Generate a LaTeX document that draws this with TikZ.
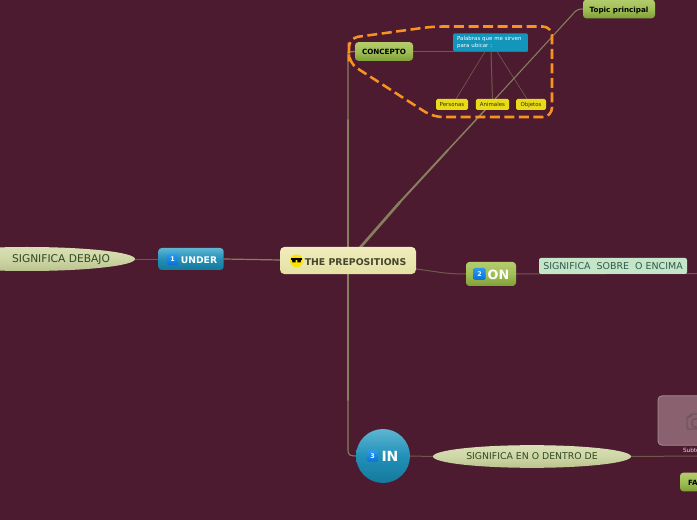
\documentclass[tikz,border=0pt]{standalone}
\usepackage{fontspec}
\setmainfont{DejaVu Sans}
\usetikzlibrary{shapes.geometric,calc}
\pgfdeclarelayer{behind}
\pgfsetlayers{behind,main}
\definecolor{bg}{HTML}{4D1B30}
\definecolor{conn}{HTML}{6E5A4A}
\definecolor{mainline}{HTML}{87805E}
\definecolor{orangeline}{HTML}{F7931E}
\definecolor{gt}{HTML}{B4CC6C}
\definecolor{gm}{HTML}{A0BF55}
\definecolor{gb}{HTML}{7FA037}
\definecolor{yel}{HTML}{E8DC18}
\definecolor{yeltext}{HTML}{332F10}
\definecolor{et}{HTML}{D9DFB4}
\definecolor{em}{HTML}{CFD6A6}
\definecolor{eb}{HTML}{BAC48E}
\definecolor{etext}{HTML}{2E4A22}
\definecolor{bt}{HTML}{5DB6D2}
\definecolor{bm}{HTML}{2290B8}
\definecolor{bb}{HTML}{14799C}
\definecolor{badget}{HTML}{2A9BEF}
\definecolor{badgeb}{HTML}{0A6ED8}
\definecolor{creamt}{HTML}{F0EDBE}
\definecolor{creamb}{HTML}{E4E1A4}
\definecolor{creamtext}{HTML}{45452E}
\definecolor{mint}{HTML}{C5E5C8}
\definecolor{minttext}{HTML}{2F5A4A}
\definecolor{cardfill}{HTML}{8A626F}
\definecolor{cardline}{HTML}{A98A94}
\definecolor{camera}{HTML}{6F5560}
\definecolor{teal}{HTML}{1296BC}
\tikzset{
  every node/.style={inner sep=0pt,outer sep=0pt,align=center},
  greenbox/.style={rounded corners=2.5pt,top color=gt,bottom color=gb,middle color=gm,text=black,font=\bfseries\fontsize{5.4}{7}\selectfont},
  yellowbox/.style={rounded corners=1.2pt,fill=yel,text=yeltext,minimum height=8.25pt,text height=3.4pt,text depth=.9pt,font=\fontsize{4.1}{5}\selectfont},
  ell/.style={ellipse,top color=et,bottom color=eb,middle color=em,text=etext},
  bluegrad/.style={top color=bt,bottom color=bb,middle color=bm},
  badge/.style={rounded corners=1pt,minimum width=8.5pt,minimum height=8.5pt,top color=badget,bottom color=badgeb,text=white,font=\bfseries\fontsize{4.8}{6}\selectfont},
  thinline/.style={draw=conn,line width=.75pt},
  hairline/.style={draw=conn,line width=.5pt},
  trunk/.style={draw=mainline,line cap=round,line join=round},
}
\begin{document}
\begin{tikzpicture}[x=.75pt,y=-.75pt]
\useasboundingbox (0,0) rectangle (697,520);

% free ends and bends
\coordinate (rightA) at (697,273.5);
\coordinate (rightB) at (697,456);
\coordinate (trunkTop) at (348,52);
\coordinate (midDiag) at (485,110);

% nodes
\node[rounded corners=3.5pt,minimum width=102pt,minimum height=20.5pt,top color=creamt,bottom color=creamb] (central) at (348,260.5) {};
\node[font=\bfseries\fontsize{7}{8}\selectfont,text=creamtext] (centraltext) at (355.5,262) {THE PREPOSITIONS};
\node[circle,fill=yellow!85!orange,minimum size=9.75pt] (face) at (296.5,261) {};
\node[rounded corners=2.5pt,minimum width=49pt,minimum height=16.5pt,bluegrad] (under) at (191,259) {};
\node[font=\bfseries\fontsize{6.9}{8}\selectfont,text=white] (undertext) at (199,260.5) {UNDER};
\node[badge] (b1) at (172.5,259.5) {1};
\node[ell,minimum width=162pt,minimum height=18pt] (debajo) at (27,259) {};
\node[font=\fontsize{8}{9}\selectfont,text=etext] (debajotext) at (61,260) {SIGNIFICA DEBAJO};
\node[rounded corners=2.5pt,minimum width=37.5pt,minimum height=18pt,top color=gt,bottom color=gb,middle color=gm] (on) at (491,274) {};
\node[font=\bfseries\fontsize{9.6}{11}\selectfont,text=white] (ontext) at (498.5,274.5) {ON};
\node[badge,minimum width=9pt,minimum height=9pt] (b2) at (479.5,274) {2};
\node[rounded corners=1.5pt,fill=mint,minimum width=111pt,minimum height=12pt,font=\fontsize{7.1}{8}\selectfont,text=minttext] (sobre) at (613,266) {SIGNIFICA\ \ SOBRE\ \ O ENCIMA};
\node[circle,minimum size=40.5pt,bluegrad] (in) at (383,456) {};
\node[font=\bfseries\fontsize{10.5}{12}\selectfont,text=white] (intext) at (390,456.5) {IN};
\node[badge] (b3) at (372.5,456) {3};
\node[ell,minimum width=148.5pt,minimum height=17pt,font=\fontsize{7}{8}\selectfont] (dentro) at (532,456.5) {SIGNIFICA EN O DENTRO DE};
\node[greenbox,minimum width=43.5pt,minimum height=14pt] (concepto) at (384,51.5) {CONCEPTO};
\node[greenbox,minimum width=54pt,minimum height=14pt,text height=7pt,text depth=1pt] (topic) at (619,9) {Topic principal};
\node[rounded corners=1pt,fill=teal,minimum width=56pt,minimum height=13.5pt,text=white,font=\fontsize{4.1}{5.4}\selectfont,align=left,text width=50pt] (palabras) at (490.5,42.5) {Palabras que me sirven\\para ubicar :};
\node[yellowbox,minimum width=24pt] (personas) at (452,104.5) {Personas};
\node[yellowbox,minimum width=25pt] (animales) at (492.5,104.5) {Animales};
\node[yellowbox,minimum width=22.5pt] (objetos) at (531,104.5) {Objetos};
\node[rounded corners=3pt,fill=cardfill,draw=cardline,line width=.6pt,minimum width=51pt,minimum height=37pt] (card) at (692,420.5) {};
\node[anchor=west,font=\fontsize{4.3}{5}\selectfont,text=white!85!bg] (cardlabel) at (683,451) {Subtopic};
\node[greenbox,minimum width=30pt,minimum height=14pt] (fa) at (700,482) {};
\node[anchor=west,font=\bfseries\fontsize{5.4}{7}\selectfont] (fatext) at (688,482.5) {FA};

% glasses on the face
\fill[black] (291,258) rectangle (302,260);
\fill[black] (291.8,259) -- (295.8,259) -- (295.5,262.5) -- (292.5,262.5) -- cycle;
\fill[black] (297.2,259) -- (301.2,259) -- (300.5,262.5) -- (297.5,262.5) -- cycle;

% camera placeholder in the card
\draw[camera,line width=1.1pt,rounded corners=1.5pt] (687,417) -- (690,417) -- (691,414) -- (700,414) -- (701,417) -- (708,417) -- (708,429) -- (687,429) -- cycle;
\draw[camera,line width=1.1pt] (696,423) circle (4.5);

% connectors and background, behind the nodes
\begin{pgfonlayer}{behind}
\fill[bg] (0,0) rectangle (697,520);
\draw[hairline] (debajo.east) -- (under.west);
\draw[trunk,line width=.9pt] (under.east) -- (central.west |- 0,260);
\draw[thinline] (central.east |- 0,269) .. controls (440,272) and (445,274) .. (on.west);
\draw[thinline] (on.east) -- (rightA);
\draw[thinline] (in.east) -- (dentro.west);
\draw[thinline] (dentro.east) -- (rightB);
\draw[thinline] (concepto.east) -- (palabras.south west) -- (palabras.south east);
\draw[hairline] (palabras.south -| 485,0) -- (personas.north -| 456,0);
\draw[thinline] (palabras.south -| 491,0) -- (animales.north);
\draw[hairline] (palabras.south -| 497,0) -- (objetos.north -| 527,0);
% main trunk towards CONCEPTO and IN
\draw[trunk,line width=1.9pt] (central.north -| 348,0) -- (348,200);
\draw[trunk,line width=1.4pt] (348,200) -- (348,120);
\draw[trunk,line width=.9pt] (348,120) -- (trunkTop) -- (concepto.west);
\draw[trunk,line width=1.9pt] (central.south -| 348,0) -- (348,340);
\draw[trunk,line width=1.2pt] (348,340) -- (348,400);
\draw[trunk,line width=.8pt] (348,400) -- (348,450) .. controls (348,455) and (350,456) .. (in.west);
% main trunk towards Topic principal
\draw[trunk,line width=2pt] (358,250) -- (400,202);
\draw[trunk,line width=1.5pt] (400,202) -- (448,150);
\draw[trunk,line width=1.1pt] (448,150) -- (midDiag);
\draw[trunk,line width=.8pt] (midDiag) -- (572,15) .. controls (576,10) and (578,9) .. (topic.west);
\end{pgfonlayer}

% highlight region
\draw[orangeline,line width=1.9pt,dash pattern=on 7.5pt off 3.4pt,rounded corners=7pt]
  (349,52) -- (349,38) -- (433,26.5) -- (552,26.5) -- (552,117) -- (433,117) -- (349,63) -- cycle;
\end{tikzpicture}
\end{document}
